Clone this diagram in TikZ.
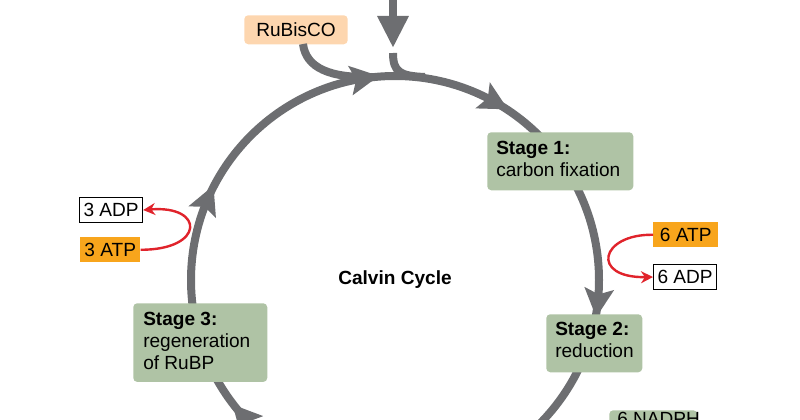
\documentclass[tikz,border=0pt]{standalone}
\usepackage{fontspec}
\setmainfont{Liberation Sans}
\usetikzlibrary{arrows.meta}
\definecolor{cyc}{HTML}{6D6E71}
\definecolor{stg}{HTML}{AFC3A5}
\definecolor{rub}{HTML}{FDD6AF}
\definecolor{atp}{HTML}{F8A51C}
\definecolor{red1}{HTML}{E0232B}
\begin{document}
\begin{tikzpicture}[x=0.75pt,y=-0.75pt,
  stage/.style={fill=stg,rounded corners=3pt,align=left,anchor=north west,inner sep=0pt},
  lab/.style={inner sep=0pt,anchor=north west,font=\fontsize{14.3pt}{16.5pt}\selectfont},
  ring/.style={draw=cyc,line width=6pt},
  rarr/.style={draw=red1,line width=1.8pt,-{Stealth[length=9pt,width=9pt]}}]
\useasboundingbox (0,0) rectangle (800,420);
\clip (0,0) rectangle (800,420);
\coordinate (c) at (395,280);
\draw[ring] (c) circle[radius=204];
\foreach \a in {-99,-61,6,138,203}{
  \fill[cyc,shift={(c)},rotate=-\a] (204,16) -- (219,-13) -- (204,-7) -- (189,-13) -- cycle;}
% incoming top arrow
\coordinate (t0) at (393,-5);
\coordinate (t1) at (393,48);
\draw[cyc,line width=6pt,-{Triangle[length=24pt,width=22pt]}] (t0) -- (t1);
\coordinate (s0) at (393,53);
\coordinate (s1) at (425,77);
\draw[cyc,line width=6pt] (s0) .. controls (393,72) and (400,76) .. (s1);
% nodes
\node[lab,fill=rub,rounded corners=3pt,minimum width=76.5pt,minimum height=21.75pt,inner xsep=9pt] (rb) at (244,15) {RuBisCO};
\coordinate (j) at (372,77);
\draw[cyc,line width=6pt] (303,44) .. controls (306,68) and (330,78) .. (j);
\node[stage,minimum width=109.5pt,minimum height=43.5pt] (s1b) at (487,132) {};
\node[lab,align=left] at (496,141) {\textbf{Stage 1:}\\carbon fixation};
\node[stage,minimum width=72pt,minimum height=43.5pt] (s2b) at (546,314) {};
\node[lab,align=left] at (555,322) {\textbf{Stage 2:}\\reduction};
\node[stage,minimum width=100.5pt,minimum height=59pt] (s3b) at (133,303) {};
\node[lab,align=left] at (143,312) {\textbf{Stage 3:}\\regeneration\\of RuBP};
\node[stage,minimum width=66pt,minimum height=20pt] (np) at (609,410) {};
\node[lab] at (617,412) {6 NADPH};
\node[font=\bfseries\fontsize{14.3pt}{16.5pt}\selectfont] (cc) at (395,280) {Calvin Cycle};
\node[lab,draw=black,line width=0.8pt,fill=white,minimum width=47pt,minimum height=18.75pt,inner xsep=3pt] (adp3) at (79,197) {3 ADP};
\node[lab,fill=atp,minimum width=45pt,minimum height=18.75pt,inner xsep=3pt] (atp3) at (80,237) {3 ATP};
\node[lab,fill=atp,minimum width=46.5pt,minimum height=18.75pt,inner xsep=5pt] (atp6) at (653,222) {6 ATP};
\node[lab,draw=black,line width=0.8pt,fill=white,minimum width=46.5pt,minimum height=18.75pt,inner xsep=3pt] (adp6) at (653,264) {6 ADP};
\draw[rarr] (atp6.west) .. controls (600,234) and (590,278) .. (adp6.west);
\draw[rarr] (atp3.east) .. controls (205,250) and (205,205) .. (adp3.east);
\end{tikzpicture}
\end{document}
